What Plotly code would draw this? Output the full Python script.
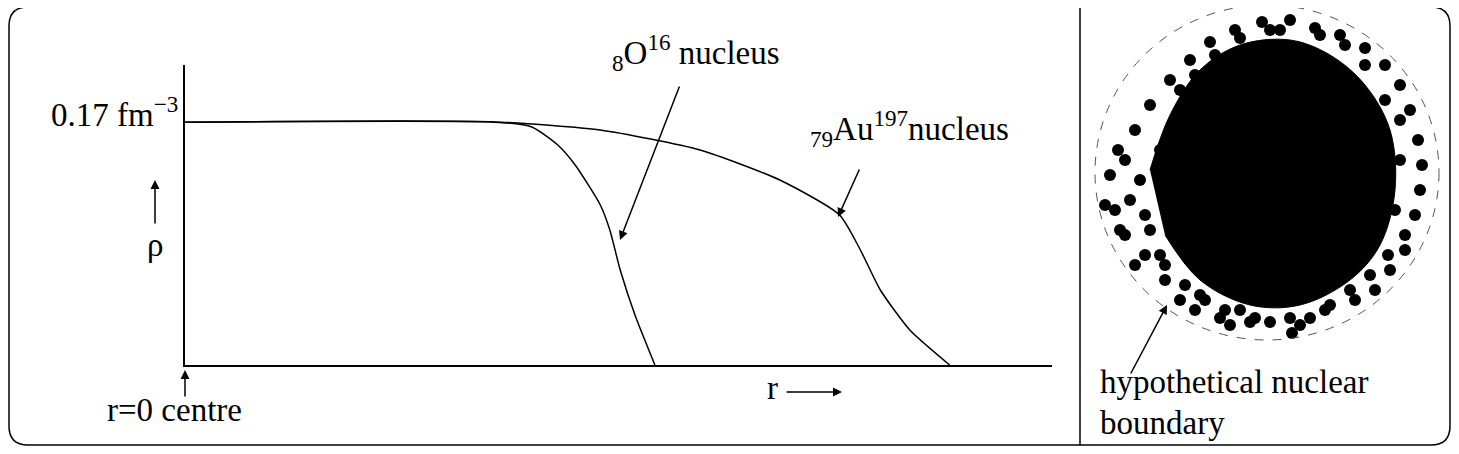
import plotly.graph_objects as go

# density curves (r in arbitrary units, rho in fm^-3)
o_r = [0, 3.58, 4.0, 4.3, 4.5, 4.79, 4.9, 5.02, 5.19, 5.42]
o_rho = [0.17, 0.17, 0.1666, 0.154, 0.14, 0.112, 0.0945, 0.0665, 0.035, 0.0]
au_r = [0, 3.63, 4.79, 5.94, 6.86, 7.55, 7.79, 8.02, 8.36, 8.82]
au_rho = [0.17, 0.17, 0.1645, 0.1505, 0.1295, 0.105, 0.0805, 0.0525, 0.0245, 0.0]

# nucleus sketch (reference-pixel decoration)
blob_x = [1150,1170,1200,1240,1290,1330,1365,1390,1395,1380,1350,1300,1250,1200,1165]
blob_y = [170,115,70,45,40,55,85,130,190,245,280,305,305,280,235]
dot_x = [1105,1110,1118,1125,1135,1150,1165,1180,1195,1220,1250,1270,1292,1310,1330,1350,1370,1388,1405,1415,1420,1422,1418,1410,1400,1385,1365,1340,1315,1290,1262,1235,1210,1190,1170,1150,1135,1125,1115,1130,1145,1195,1400,1395,1230,1200,1120,
         1140,1160,1175,1190,1145,1160,1215,1240,1280,1320,1345,1365,1385,1400,1405,1390,1375,1355,1325,1290,1255,1225,1205,1185,1165,1180,1240,1270,1300]
dot_y = [205,175,150,235,265,230,280,300,310,318,322,322,333,318,305,290,275,255,235,215,190,165,140,110,85,65,48,35,28,20,22,30,42,60,80,105,130,160,210,200,255,75,160,210,325,295,230,
         180,150,120,95,215,255,55,38,30,35,45,65,100,120,250,270,290,300,310,318,318,310,300,285,265,90,310,30,325]

W, H = 1459, 454
OX, OY = 8, 8
FW, FH = W - 2 * OX, H - 2 * OY
def px(x): return (x - OX) / FW
def py(y): return 1 - (y - OY) / FH

F = dict(family="Liberation Serif", size=33, color="black")
fig = go.Figure()
ln = dict(color="black", width=1.5)
fig.add_trace(go.Scatter(x=o_r, y=o_rho, mode="lines", line=dict(shape="spline", smoothing=0.6, **ln), xaxis="x", yaxis="y"))
fig.add_trace(go.Scatter(x=au_r, y=au_rho, mode="lines", line=dict(shape="spline", smoothing=0.6, **ln), xaxis="x", yaxis="y"))
fig.add_trace(go.Scatter(x=blob_x, y=blob_y, mode="lines", fill="toself", fillcolor="black",
                         line=dict(shape="spline", color="black", width=1), xaxis="x2", yaxis="y2"))
fig.add_trace(go.Scatter(x=dot_x, y=dot_y, mode="markers", marker=dict(size=12, color="black"), xaxis="x2", yaxis="y2"))

fig.update_layout(
    width=FW, height=FH, margin=dict(l=0, r=0, t=0, b=0), showlegend=False,
    paper_bgcolor="white", plot_bgcolor="rgba(0,0,0,0)",
    xaxis=dict(domain=[px(185), px(1052)], range=[0, 10], showgrid=False, zeroline=False,
               showticklabels=False, showline=True, linecolor="black", linewidth=1.5, ticks=""),
    yaxis=dict(domain=[py(365), py(65)], range=[0, 0.21], showgrid=False, zeroline=False,
               showticklabels=False, showline=True, linecolor="black", linewidth=1.5, ticks=""),
    xaxis2=dict(domain=[0, 1], range=[OX, W - OX], visible=False, anchor="y2"),
    yaxis2=dict(domain=[0, 1], range=[H - OY, OY], visible=False, anchor="x2"),
    shapes=[
        dict(type="path", xref="x2", yref="y2",
             path="M 28 7 L 1431 7 Q 1450 7 1450 26 L 1450 426 Q 1450 445 1431 445 L 28 445 Q 9 445 9 426 L 9 26 Q 9 7 28 7 Z",
             line=dict(color="black", width=1.5)),
        dict(type="line", xref="x2", yref="y2", x0=1080, x1=1080, y0=7, y1=445, line=dict(color="black", width=1.5)),
        dict(type="circle", xref="x2", yref="y2", x0=1095, x1=1439, y0=5, y1=340,
             line=dict(color="#555", width=1, dash="dash")),
    ],
)

def txt(x, y, t, xa="left"):
    fig.add_annotation(x=x, y=y, xref="x2", yref="y2", text=t, showarrow=False, xanchor=xa,
                       yanchor="middle", font=F)

def arrow(x0, y0, x1, y1):
    fig.add_annotation(x=x1, y=y1, ax=x0, ay=y0, xref="x2", yref="y2", axref="x2", ayref="y2",
                       text="", showarrow=True, arrowhead=2, arrowsize=1.2, arrowwidth=1.5, arrowcolor="black")

txt(180, 112, "0.17 fm<sup>−3</sup>", "right")
txt(155, 245, "ρ", "center")
arrow(155, 225, 155, 180)
txt(105, 410, "r=0 centre")
arrow(185, 398, 185, 370)
txt(765, 388, "r", "left")
arrow(785, 392, 842, 392)
txt(610, 52, "<sub>8</sub>O<sup>16</sup> nucleus")
arrow(680, 85, 620, 240)
txt(808, 128, "<sub>79</sub>Au<sup>197</sup>nucleus")
arrow(860, 168, 838, 217)
txt(1098, 382, "hypothetical nuclear")
txt(1098, 423, "boundary")
arrow(1130, 375, 1167, 305)

fig.write_html("out.html")
